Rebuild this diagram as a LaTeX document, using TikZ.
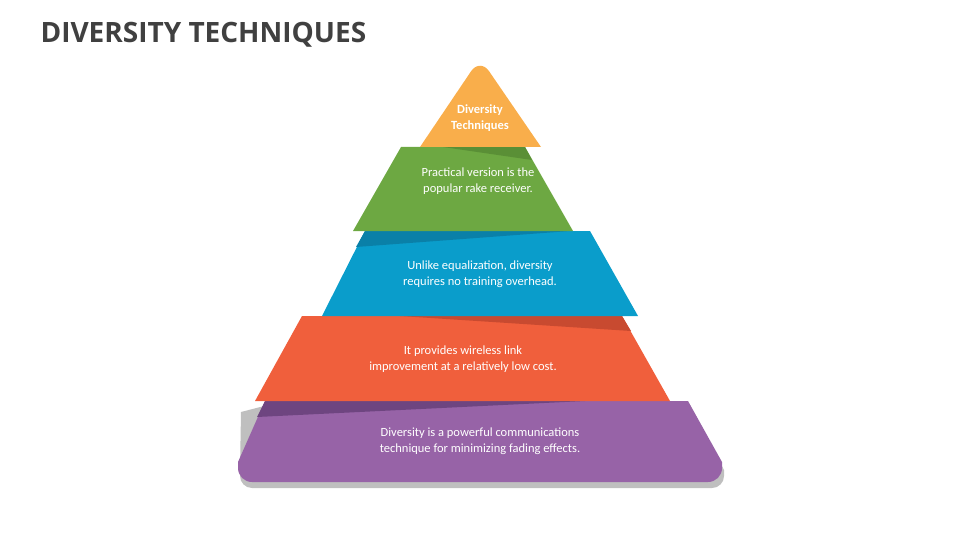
\documentclass[tikz,border=0pt]{standalone}
\usepackage{fontspec}
\setmainfont{Carlito}
\newfontfamily\titlefont{Open Sans}
\definecolor{cor}{HTML}{F9AE4B}
\definecolor{cgr}{HTML}{6DA842}
\definecolor{cgrd}{HTML}{5A8F36}
\definecolor{cbl}{HTML}{0A9DCB}
\definecolor{cbld}{HTML}{0A80A8}
\definecolor{crd}{HTML}{F05F3C}
\definecolor{crdd}{HTML}{C84A30}
\definecolor{cpu}{HTML}{9763A7}
\definecolor{cpud}{HTML}{6E4580}
\definecolor{ctitle}{HTML}{404040}
\tikzset{lbl/.style={text=white,font=\fontsize{12.5}{16}\selectfont,align=center}}
\begin{document}
\begin{tikzpicture}[x=1pt,y=-1pt]
\useasboundingbox (0,0) rectangle (960,540);
\node[anchor=west,text=ctitle,font=\titlefont\bfseries\fontsize{28}{32}\selectfont] (title) at (37,35) {DIVERSITY TECHNIQUES};
% shadow under base
\fill[black!25] (241,412) -- (268,405) -- (690,405) -- (724,470) [rounded corners=12pt] -- (724,488) -- (240,488) [sharp corners] -- (240,470) -- cycle;
% purple
\fill[cpu] (265,401) -- (688,401) -- (722,462) [rounded corners=14pt] -- (722,482) -- (238,482) [sharp corners]-- (238,462) -- cycle;
\fill[cpud] (265,401) -- (585,401) -- (257,417) -- cycle;
% red
\fill[crd] (302,316) -- (622,316) -- (670,401) -- (255,401) -- cycle;
\fill[crdd] (400,316) -- (622,316) -- (631,331) -- cycle;
% blue
\fill[cbl] (365,231) -- (590,231) -- (638,316) -- (322,316) -- cycle;
\fill[cbld] (365,231) -- (570,231) -- (356,247) -- cycle;
% green
\fill[cgr] (401,147) -- (525,147) -- (573,231) -- (353,231) -- cycle;
\fill[cgrd] (443,147) -- (525,147) -- (532,160) -- cycle;
% orange
\fill[cor] (420,147) [rounded corners=16pt] -- (480,58) [sharp corners] -- (541,147) -- cycle;
\node[lbl] (t1) at (480,118) {\textbf{Diversity}\\\textbf{Techniques}};
\node[lbl] (t2) at (478,181) {Practical version is the\\popular rake receiver.};
\node[lbl] (t3) at (480,274) {Unlike equalization, diversity\\requires no training overhead.};
\node[lbl] (t4) at (463,359) {It provides wireless link\\improvement at a relatively low cost.};
\node[lbl] (t5) at (480,441) {Diversity is a powerful communications\\technique for minimizing fading effects.};
\end{tikzpicture}
\end{document}
